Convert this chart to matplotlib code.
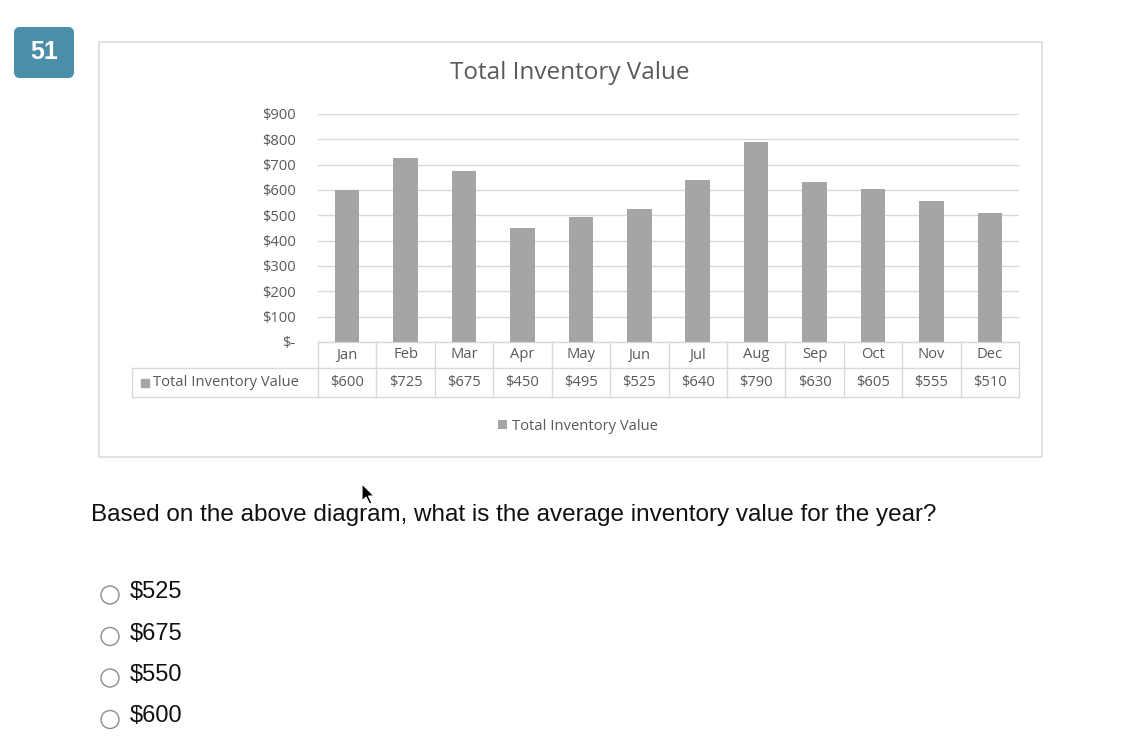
import matplotlib
matplotlib.use("Agg")
import matplotlib.pyplot as plt
from matplotlib.patches import FancyBboxPatch, Rectangle, Circle, Polygon
from matplotlib.lines import Line2D

months = ["Jan", "Feb", "Mar", "Apr", "May", "Jun",
          "Jul", "Aug", "Sep", "Oct", "Nov", "Dec"]
inventory = [600, 725, 675, 450, 495, 525, 640, 790, 630, 605, 555, 510]
y_ticks = [0, 100, 200, 300, 400, 500, 600, 700, 800, 900]
series_name = "Total Inventory Value"
question = "Based on the above diagram, what is the average inventory value for the year?"
answers = ["$525", "$675", "$550", "$600"]
question_no = "51"

W, H = 1140, 752
BAR = "#a5a5a5"
GRID = "#d9d9d9"
TXT = "#595959"
CHART_FONT = ["Open Sans", "DejaVu Sans"]
FS = 10.6

fig = plt.figure(figsize=(W / 100, H / 100), dpi=100)
fig.patch.set_facecolor("white")

# page layer in pixel coordinates
bg = fig.add_axes([0, 0, 1, 1], zorder=0)
bg.set_xlim(0, W)
bg.set_ylim(H, 0)
bg.axis("off")

# question number badge
bg.add_patch(FancyBboxPatch((14, 27), 60, 51, boxstyle="round,pad=0,rounding_size=6",
                            fc="#4b8ea9", ec="none"))
bg.text(44, 52, question_no, ha="center", va="center", color="white",
        fontsize=18, fontweight="bold", family="Liberation Sans")

# chart frame
bg.add_patch(Rectangle((98.5, 41.5), 943, 415, fc="white", ec="#dedede", lw=1.2))

# question and radio options
bg.text(91, 515, question, ha="left", va="center", fontsize=17.5,
        family="Liberation Sans", color="#111111")
for i, a in enumerate(answers):
    yy = 595 + i * 41.5
    bg.add_patch(Circle((110, yy), 9, fc="white", ec="#8c8c8c", lw=1.0))
    bg.text(130, yy - 3, a, ha="left", va="center", fontsize=17,
            family="Liberation Sans", color="#111111")

# mouse cursor
bg.add_patch(Polygon([(362, 484), (362, 501), (366, 497), (369.5, 504), (372, 503),
                      (368.5, 496), (374, 496)], closed=True, fc="black", ec="white", lw=0.8))

# chart
left, right, top, base = 318, 1019, 114, 342
ax = fig.add_axes([left / W, 1 - base / H, (right - left) / W, (base - top) / H], zorder=2)
ax.patch.set_visible(False)
x = list(range(len(months)))
bars = ax.bar(x, inventory, width=0.42, color=BAR, label=series_name, zorder=3)
ax.set_xlim(-0.5, len(months) - 0.5)
ax.set_ylim(0, 900)
ax.set_yticks(y_ticks)
ax.set_yticklabels(["$-" if v == 0 else f"${v}" for v in y_ticks],
                   family=CHART_FONT, fontsize=FS, color=TXT)
ax.set_xticks([])
ax.tick_params(axis="y", length=0, pad=16)
ax.grid(axis="y", color=GRID, lw=1, zorder=0)
for s in ax.spines.values():
    s.set_visible(False)

fig.text(570 / W, 1 - 73 / H, series_name, ha="center", va="center",
         fontsize=17.5, color=TXT, family=CHART_FONT)

# data table under the axis
tr = ax.get_xaxis_transform()
ph = base - top
px = (right - left) / len(months)
h1 = -26 / ph
h2 = -55 / ph
lab_left = -0.5 - (left - 132) / px
ax.add_line(Line2D([-0.5, 11.5], [0, 0], transform=tr, color=GRID, lw=1, clip_on=False))
ax.add_line(Line2D([lab_left, 11.5], [h1, h1], transform=tr, color=GRID, lw=1, clip_on=False))
ax.add_line(Line2D([lab_left, 11.5], [h2, h2], transform=tr, color=GRID, lw=1, clip_on=False))
ax.add_line(Line2D([lab_left, lab_left], [h1, h2], transform=tr, color=GRID, lw=1, clip_on=False))
for k in range(len(months) + 1):
    ax.add_line(Line2D([k - 0.5, k - 0.5], [0, h2], transform=tr, color=GRID, lw=1,
                       clip_on=False))
for i, (m, v) in enumerate(zip(months, inventory)):
    ax.text(i, h1 / 2, m, transform=tr, ha="center", va="center", fontsize=FS,
            color=TXT, family=CHART_FONT)
    ax.text(i, (h1 + h2) / 2, f"${v}", transform=tr, ha="center", va="center",
            fontsize=FS, color=TXT, family=CHART_FONT)
ax.plot([-0.5 - (left - 145) / px], [(h1 + h2) / 2], transform=tr, marker="s",
        ms=5.5, color=BAR, clip_on=False)
ax.text(-0.5 - (left - 153) / px, (h1 + h2) / 2, series_name, transform=tr,
        ha="left", va="center", fontsize=FS, color=TXT, family=CHART_FONT)

leg = ax.legend(handles=[bars], loc="center", bbox_to_anchor=((578 - left) / (right - left),
                (base - 426) / ph), frameon=False, handlelength=0.6, handleheight=0.6,
                handletextpad=0.3, prop={"family": CHART_FONT, "size": FS})
for t in leg.get_texts():
    t.set_color(TXT)

fig.savefig("out.png", dpi=100, facecolor="white")
